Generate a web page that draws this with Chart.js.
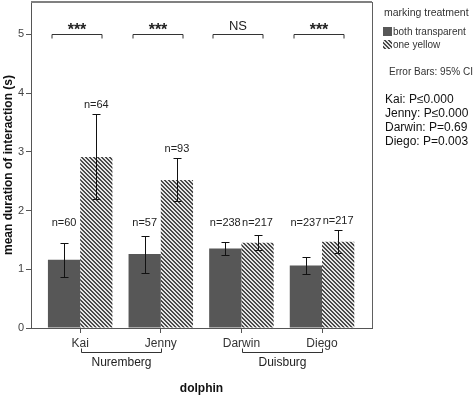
<!DOCTYPE html>
<html>
<head>
<meta charset="utf-8">
<script src="https://cdn.jsdelivr.net/npm/chart.js@4/dist/chart.umd.min.js"></script>
<style>html,body{margin:0;padding:0;background:#fff;}</style>
</head>
<body>
<canvas id="grafica" width="474" height="397"></canvas>
<script>
// datos
const dolphins = ['Kai', 'Jenny', 'Darwin', 'Diego'];
const places = ['Nuremberg', 'Duisburg'];
const transparent = [1.16, 1.26, 1.355, 1.066];
const transpLow = [0.87, 0.93, 1.25, 0.92];
const transpHigh = [1.44, 1.565, 1.46, 1.21];
const yellow = [2.91, 2.52, 1.45, 1.47];
const yellowLow = [2.19, 2.165, 1.33, 1.28];
const yellowHigh = [3.65, 2.90, 1.59, 1.67];
const nTransp = [60, 57, 238, 237];
const nYellow = [64, 93, 217, 217];
const signif = ['***', '***', 'NS', '***'];
const pValues = ['Kai: P\u22640.000', 'Jenny: P\u22640.000', 'Darwin: P=0.69', 'Diego: P=0.003'];

const FONT = "'Liberation Sans', Arial, sans-serif";
const GRIS = '#575757';

function hatch(){
	let c = document.createElement('canvas');
	c.width = 4; c.height = 4;
	let g = c.getContext('2d');
	g.fillStyle = '#e6e6e6';
	g.fillRect(0, 0, 4, 4);
	g.fillStyle = '#4a4a4a';
	for(let y = 0; y < 4; y++){
		for(let x = 0; x < 4; x++){
			if((((x - y) % 4) + 4) % 4 < 2) g.fillRect(x, y, 1, 1);
		}
	}
	return g.createPattern(c, 'repeat');
}
const rayado = hatch();

let ctx = document.getElementById('grafica').getContext('2d');

const extras = {
	id: 'extras',
	afterDatasetsDraw(chart){
		let c = chart.ctx;
		let xs = chart.scales.x, ys = chart.scales.y, a = chart.chartArea;
		c.save();
		// marco superior y derecho
		c.strokeStyle = '#808080';
		c.lineWidth = 2;
		c.beginPath(); c.moveTo(a.left, a.top); c.lineTo(a.right, a.top); c.stroke();
		c.strokeStyle = '#606060';
		c.lineWidth = 1;
		c.beginPath(); c.moveTo(a.right + 0.5, a.top); c.lineTo(a.right + 0.5, a.bottom); c.stroke();

		// barras de error y etiquetas n=
		let lows = [transpLow, yellowLow], highs = [transpHigh, yellowHigh], ns = [nTransp, nYellow];
		c.strokeStyle = '#111';
		c.fillStyle = '#222';
		c.font = '11px ' + FONT;
		c.textAlign = 'center';
		c.textBaseline = 'middle';
		for(let d = 0; d < 2; d++){
			let meta = chart.getDatasetMeta(d);
			meta.data.forEach(function(bar, i){
				let x = Math.round(bar.x) + 0.5;
				let yh = Math.round(ys.getPixelForValue(highs[d][i])) + 0.5;
				let yl = Math.round(ys.getPixelForValue(lows[d][i])) + 0.5;
				c.beginPath();
				c.moveTo(x, yh); c.lineTo(x, yl);
				c.moveTo(x - 4, yh); c.lineTo(x + 4, yh);
				c.moveTo(x - 4, yl); c.lineTo(x + 4, yl);
				c.stroke();
				let ly = Math.min(ys.getPixelForValue(1.79), yh - 10);
				c.fillText('n=' + ns[d][i], bar.x, ly);
			});
		}

		// corchetes de significancia
		let y5 = Math.round(ys.getPixelForValue(5)) + 0.5;
		c.strokeStyle = '#333';
		for(let i = 0; i < dolphins.length; i++){
			let cx = Math.round(xs.getPixelForValue(i + 1)) - 3;
			c.beginPath();
			c.moveTo(cx - 25, y5 + 4); c.lineTo(cx - 25, y5); c.lineTo(cx + 25, y5); c.lineTo(cx + 25, y5 + 4);
			c.stroke();
			c.textBaseline = 'middle';
			if(signif[i] == 'NS'){
				c.font = '13px ' + FONT;
				c.fillText(signif[i], cx, y5 - 8);
			} else {
				c.font = 'bold 16px ' + FONT;
				c.fillText(signif[i], cx, y5 - 4);
			}
		}

		// grupos
		c.font = '12px ' + FONT;
		c.textBaseline = 'middle';
		let gy = a.bottom + 24.5;
		for(let g = 0; g < places.length; g++){
			let x1 = Math.round(xs.getPixelForValue(2 * g + 1)) + 1.5;
			let x2 = Math.round(xs.getPixelForValue(2 * g + 2)) + 0.5;
			c.beginPath();
			c.moveTo(x1, gy - 4); c.lineTo(x1, gy); c.lineTo(x2, gy); c.lineTo(x2, gy - 4);
			c.stroke();
			c.fillText(places[g], (x1 + x2) / 2, a.bottom + 35);
		}

		// leyenda
		c.textAlign = 'left';
		c.fillStyle = '#333';
		c.font = '10.5px ' + FONT;
		c.fillText('marking treatment', 384, 13);
		c.fillStyle = GRIS;
		c.fillRect(383, 27, 9, 9);
		c.fillStyle = rayado;
		c.fillRect(383, 40, 9, 9);
		c.fillStyle = '#333';
		c.font = '10px ' + FONT;
		c.fillText('both transparent', 393, 32);
		c.fillText('one yellow', 393, 45);
		c.fillText('Error Bars: 95% CI', 389, 72);
		c.fillStyle = '#111';
		c.font = '12px ' + FONT;
		pValues.forEach(function(t, i){
			c.fillText(t, 385, 100 + i * 14);
		});
		c.restore();
	}
};

let grafica = new Chart(ctx, {
	type: 'bar',
	data: {
		datasets: [
			{
				label: 'both transparent',
				data: transparent.map((v, i) => ({x: i + 1, y: v})),
				backgroundColor: GRIS
			},
			{
				label: 'one yellow',
				data: yellow.map((v, i) => ({x: i + 1, y: v})),
				backgroundColor: rayado
			}
		]
	},
	options: {
		responsive: false,
		animation: false,
		categoryPercentage: 0.8,
		barPercentage: 1.0,
		layout: {padding: {top: 2, right: 102, left: 0, bottom: 0}},
		plugins: {legend: {display: false}, tooltip: {enabled: false}},
		scales: {
			x: {
				type: 'linear',
				min: 0.39,
				max: 4.62,
				offset: false,
				afterFit: function(s){ s.height = 69; s.paddingLeft = 0; s.paddingRight = 0; },
				afterBuildTicks: function(s){ s.ticks = dolphins.map((d, i) => ({value: i + 1})); },
				ticks: {
					autoSkip: false,
					maxRotation: 0,
					padding: 3,
					color: '#333',
					font: {family: FONT, size: 12},
					callback: function(v){ return dolphins[v - 1]; }
				},
				grid: {drawOnChartArea: false, offset: false, tickLength: 5, color: '#555'},
				border: {color: '#555'},
				title: {display: true, text: 'dolphin', color: '#111', font: {family: FONT, size: 12, weight: 'bold'}, padding: {top: 0, bottom: 1}}
			},
			y: {
				min: 0,
				max: 5.55,
				afterFit: function(s){ s.width = 31; s.paddingTop = 0; s.paddingBottom = 0; },
				afterBuildTicks: function(s){ s.ticks = s.ticks.filter(t => Number.isInteger(t.value)); },
				ticks: {stepSize: 1, padding: 2, color: '#444', font: {family: FONT, size: 11}},
				grid: {drawOnChartArea: false, tickLength: 5, color: '#555'},
				border: {color: '#555'},
				title: {display: true, text: 'mean duration of interaction (s)', color: '#111', font: {family: FONT, size: 12, weight: 'bold'}, padding: {top: 1, bottom: 0}}
			}
		}
	},
	plugins: [extras]
});
</script>
</body>
</html>
